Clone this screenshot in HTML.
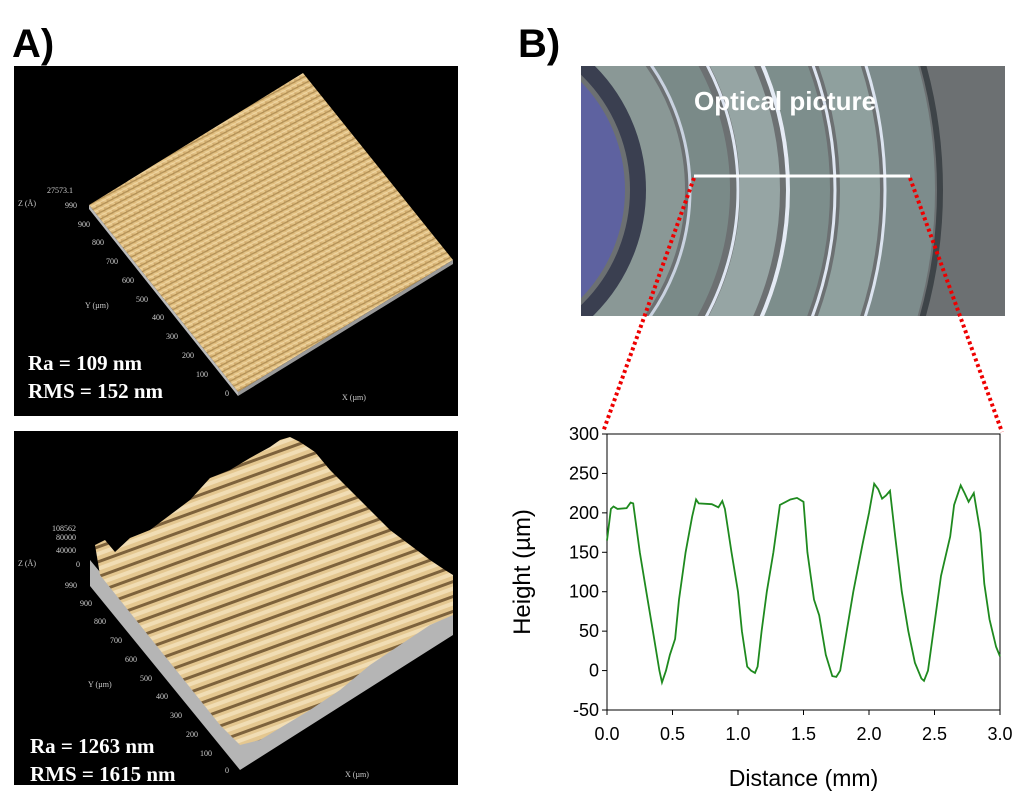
<!DOCTYPE html>
<html><head><meta charset="utf-8"><style>
body{margin:0;background:#fff;width:1024px;height:804px;overflow:hidden;font-family:"Liberation Sans",sans-serif}
</style></head><body>
<svg width="1024" height="804" viewBox="0 0 1024 804" xmlns="http://www.w3.org/2000/svg">
<defs>
<linearGradient id="gold" x1="0" y1="0" x2="1" y2="1"><stop offset="0" stop-color="#d9b06a"/><stop offset="0.5" stop-color="#e8c98d"/><stop offset="1" stop-color="#c9a060"/></linearGradient>
<pattern id="stripes" width="6" height="6" patternUnits="userSpaceOnUse" patternTransform="rotate(62)"><rect width="6" height="6" fill="url(#gold)"/><rect width="1.3" height="6" fill="#8a6a35" opacity="0.55"/><rect x="3" width="1" height="6" fill="#f6e3b8" opacity="0.6"/></pattern>
<pattern id="peaks" width="14" height="10" patternUnits="userSpaceOnUse" patternTransform="rotate(70)"><rect width="14" height="10" fill="#e4c790"/><rect width="3" height="10" fill="#5a4020" opacity="0.75"/><rect x="6" width="4" height="10" fill="#f7e7c4" opacity="0.7"/></pattern>
<clipPath id="photo"><rect x="581" y="66" width="424" height="250"/></clipPath>
</defs>

<text x="12" y="57" font-size="40" font-weight="bold" fill="#000">A)</text>
<text x="518" y="57" font-size="40" font-weight="bold" fill="#000">B)</text>

<g>
<rect x="14" y="66" width="444" height="350" fill="#000"/>
<polygon points="89,205 303,73 453,260 238,392" fill="url(#stripes)"/>
<polygon points="89,205 238,392 238,396 89,209" fill="#bbb"/>
<polygon points="238,392 453,260 453,264 238,396" fill="#999"/>
<g fill="#ccc" font-family="Liberation Serif" font-size="8">
<text x="47" y="193">27573.1</text><text x="18" y="206">Z (Å)</text><text x="65" y="208">990</text>
<text x="78" y="227">900</text><text x="92" y="245">800</text><text x="106" y="264">700</text><text x="122" y="283">600</text><text x="136" y="302">500</text>
<text x="85" y="308">Y (µm)</text><text x="152" y="320">400</text><text x="166" y="339">300</text><text x="182" y="358">200</text><text x="196" y="377">100</text><text x="225" y="396">0</text>
<text x="342" y="400">X (µm)</text>
</g>
<text x="28" y="370" font-family="Liberation Serif" font-weight="bold" font-size="21" fill="#fff">Ra = 109 nm</text>
<text x="28" y="398" font-family="Liberation Serif" font-weight="bold" font-size="21" fill="#fff">RMS = 152 nm</text>
</g>

<g>
<rect x="14" y="431" width="444" height="354" fill="#000"/>
<polygon points="90,560 90,586 240,770 453,635 453,600 240,740" fill="#b5b5b5"/>
<polygon points="95,545 105,540 115,552 130,538 150,530 170,515 190,500 210,478 230,470 250,458 270,447 280,440 290,437 300,442 315,452 330,470 345,485 360,500 375,515 390,530 410,545 430,560 445,570 453,575 453,615 430,625 400,645 370,665 340,690 310,710 285,725 260,740 240,745 220,725 200,700 180,675 160,650 140,625 120,600 100,575" fill="url(#peaks)"/>
<g fill="#ccc" font-family="Liberation Serif" font-size="8">
<text x="52" y="531">108562</text><text x="56" y="540">80000</text><text x="56" y="553">40000</text><text x="76" y="567">0</text><text x="18" y="566">Z (Å)</text>
<text x="65" y="588">990</text><text x="80" y="606">900</text><text x="94" y="624">800</text><text x="110" y="643">700</text><text x="125" y="662">600</text><text x="140" y="681">500</text>
<text x="88" y="687">Y (µm)</text><text x="156" y="699">400</text><text x="170" y="718">300</text><text x="186" y="737">200</text><text x="200" y="756">100</text><text x="225" y="773">0</text>
<text x="345" y="777">X (µm)</text>
</g>
<text x="30" y="753" font-family="Liberation Serif" font-weight="bold" font-size="21" fill="#fff">Ra = 1263 nm</text>
<text x="30" y="781" font-family="Liberation Serif" font-weight="bold" font-size="21" fill="#fff">RMS = 1615 nm</text>
</g>

<g clip-path="url(#photo)">
<rect x="581" y="66" width="424" height="250" fill="#6c7072"/>
<g fill="none">
<circle cx="470" cy="190" r="470" stroke="#3e4448" stroke-width="6"/>
<circle cx="470" cy="190" r="440" stroke="#7d8c8c" stroke-width="50"/>
<circle cx="470" cy="190" r="390" stroke="#8fa09e" stroke-width="40"/>
<circle cx="470" cy="190" r="340" stroke="#7d8e8c" stroke-width="40"/>
<circle cx="470" cy="190" r="290" stroke="#96a5a4" stroke-width="40"/>
<circle cx="470" cy="190" r="240" stroke="#7a8a88" stroke-width="40"/>
<circle cx="470" cy="190" r="195" stroke="#8a9896" stroke-width="40"/>
<circle cx="470" cy="190" r="415" stroke="#dce4f0" stroke-width="3"/>
<circle cx="470" cy="190" r="365" stroke="#dfe6f2" stroke-width="3"/>
<circle cx="470" cy="190" r="318" stroke="#e5ebf5" stroke-width="4"/>
<circle cx="470" cy="190" r="268" stroke="#dfe6f2" stroke-width="3"/>
<circle cx="470" cy="190" r="220" stroke="#c9d2e0" stroke-width="3"/>
<circle cx="470" cy="190" r="168" stroke="#3a3f50" stroke-width="16"/>
</g>
<circle cx="470" cy="190" r="155" fill="#5e62a0"/>
</g>
<text x="694" y="110" font-size="26" font-weight="bold" fill="#fff">Optical picture</text>
<line x1="694" y1="176" x2="910" y2="176" stroke="#fff" stroke-width="3"/>
<line x1="694" y1="178" x2="603" y2="432" stroke="#e00" stroke-width="4" stroke-dasharray="3,3"/>
<line x1="910" y1="178" x2="1002" y2="432" stroke="#e00" stroke-width="4" stroke-dasharray="3,3"/>

<g id="chart"></g>
</svg>
<script>
const xVals=[0,0.03,0.05,0.08,0.15,0.18,0.2,0.25,0.3,0.35,0.4,0.42,0.45,0.48,0.52,0.55,0.6,0.65,0.68,0.7,0.8,0.85,0.88,0.9,0.95,1.0,1.03,1.07,1.1,1.13,1.15,1.18,1.22,1.27,1.32,1.4,1.45,1.5,1.53,1.58,1.62,1.67,1.72,1.75,1.78,1.83,1.88,1.95,2.0,2.04,2.07,2.1,2.13,2.16,2.2,2.25,2.3,2.35,2.4,2.42,2.45,2.5,2.55,2.62,2.65,2.7,2.73,2.76,2.8,2.85,2.88,2.92,2.97,3.0];
const heights=[165,205,208,205,206,213,212,150,100,50,0,-15,0,20,40,90,150,195,217,212,211,207,215,205,150,100,50,5,0,-3,5,50,100,150,210,217,219,214,150,90,70,20,-7,-8,0,50,100,160,200,237,230,218,222,228,170,100,50,10,-10,-13,0,60,120,170,210,235,225,214,225,175,110,65,30,18];
const xTicks=[0,0.5,1,1.5,2,2.5,3];
const xTickLabels=["0.0","0.5","1.0","1.5","2.0","2.5","3.0"];
const yTicks=[-50,0,50,100,150,200,250,300];
const NS="http://www.w3.org/2000/svg";
const L=607,R=1000,T=434,B=710;
const sx=v=>L+(v-0)/(3-0)*(R-L);
const sy=v=>B-(v+50)/350*(B-T);
const g=document.getElementById('chart');
function mk(t,a){const e=document.createElementNS(NS,t);for(const k in a)e.setAttribute(k,a[k]);g.appendChild(e);return e;}
const frame=mk('rect',{x:L,y:T,width:R-L,height:B-T,fill:'none',stroke:'#000','stroke-width':1});


yTicks.forEach(v=>{
 const t=mk('line',{x1:L-5,x2:L,y1:sy(v),y2:sy(v),stroke:'#000'});
 
 
 const l=mk('text',{x:L-8,y:sy(v)+6,'text-anchor':'end','font-size':18,fill:'#000'});l.textContent=v;
 
 
});
xTicks.forEach((v,i)=>{
 const t=mk('line',{x1:sx(v),x2:sx(v),y1:B,y2:B+5,stroke:'#000'});
 
 
 const l=mk('text',{x:sx(v),y:B+30,'text-anchor':'middle','font-size':18,fill:'#000'});l.textContent=xTickLabels[i];
 
 
});
const path=mk('path',{d:xVals.map((x,i)=>(i?'L':'M')+sx(x).toFixed(1)+','+sy(heights[i]).toFixed(1)).join(''),fill:'none',stroke:'#1f8a1f','stroke-width':1.8});


const xt=mk('text',{x:(L+R)/2,y:786,'text-anchor':'middle','font-size':23,fill:'#000'});xt.textContent='Distance (mm)';


const yt=mk('text',{x:0,y:0,'text-anchor':'middle','font-size':24,fill:'#000',transform:'translate(530,572) rotate(-90)'});yt.textContent='Height (µm)';


</script>
</body></html>
